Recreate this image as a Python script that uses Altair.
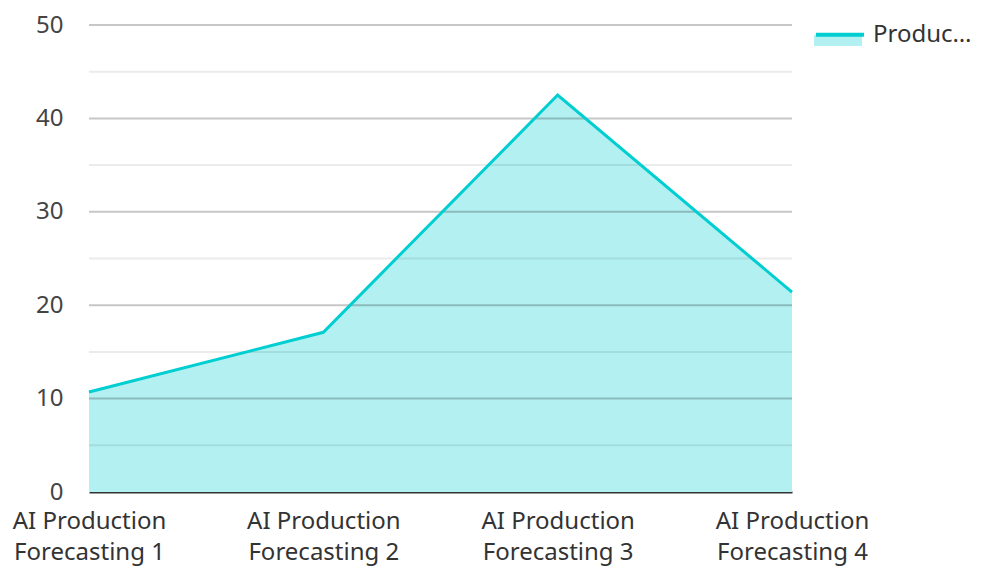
import altair as alt
import pandas as pd

categories = ["AI Production Forecasting 1", "AI Production Forecasting 2",
              "AI Production Forecasting 3", "AI Production Forecasting 4"]
values = [10.7, 17.1, 42.5, 21.4]
series_name = "Production"
major_ticks = [10, 20, 30, 40, 50]
minor_ticks = [5, 15, 25, 35, 45]

df = pd.DataFrame({"cat": categories, "value": values, "series": [series_name] * 4,
                   "lkey": ["line"] * 4})
major_df = pd.DataFrame({"value": major_ticks})
minor_df = pd.DataFrame({"value": minor_ticks})

FONT = "Noto Sans"
W, H = 703, 467

x_enc = alt.X("cat:N", sort=categories, title=None,
              scale=alt.Scale(type="point", padding=0),
              axis=alt.Axis(labelExpr="[slice(datum.label, 0, 13), slice(datum.label, 14)]",
                            labelAngle=0, labelFontSize=24, labelFont=FONT, labelColor="#333333",
                            labelLineHeight=31, labelPadding=17, ticks=False,
                            domain=True, domainColor="#333333", domainWidth=2,
                            grid=False, labelAlign="center"))
y_scale = alt.Scale(domain=[0, 50], nice=False)
y_axis = alt.Axis(values=[0, 10, 20, 30, 40, 50], labelFontSize=24, labelFont=FONT,
                  labelColor="#444444", labelPadding=26, ticks=False, domain=False,
                  grid=False)
y_enc = alt.Y("value:Q", scale=y_scale, title=None, axis=y_axis)

LX, LY = 725, -14

area = alt.Chart(df).mark_area(interpolate="linear").encode(
    x=x_enc, y=y_enc,
    fill=alt.Fill("series:N", scale=alt.Scale(range=["#b2f0f1"]),
                  legend=alt.Legend(title=None, orient="none", legendX=LX, legendY=LY,
                                    padding=0,
                                    symbolType="M-1,0H1V0.46H-1Z", symbolSize=2304,
                                    symbolStrokeWidth=0, labelFontSize=24, labelFont=FONT,
                                    labelColor="#333333", labelLimit=100, labelOffset=11)),
)

minor = alt.Chart(minor_df).mark_rule(color="#000000", opacity=0.08, strokeWidth=2).encode(
    y=alt.Y("value:Q", scale=y_scale, title=None, axis=y_axis))
major = alt.Chart(major_df).mark_rule(color="#000000", opacity=0.22, strokeWidth=2).encode(
    y=alt.Y("value:Q", scale=y_scale, title=None, axis=y_axis))

line = alt.Chart(df).mark_line(strokeWidth=3, strokeJoin="miter").encode(
    x=x_enc, y=y_enc,
    stroke=alt.Stroke("lkey:N", scale=alt.Scale(range=["#00CED1"]),
                      legend=alt.Legend(title=None, orient="none", legendX=LX, legendY=LY,
                                        padding=0,
                                        symbolType="M-1,-0.09H1", symbolSize=2304,
                                        symbolStrokeWidth=4, labelExpr="''", labelFontSize=24,
                                        labelFont=FONT, labelLimit=100, labelOffset=11)),
)

chart = alt.layer(area, minor, major, line).resolve_scale(
    fill="independent", stroke="independent"
).properties(
    width=W, height=H, padding={"left": 4, "top": 3, "right": 0, "bottom": 2}
).configure_view(stroke=None)

chart.save("out.html", embed_options={"renderer": "svg", "actions": False})
